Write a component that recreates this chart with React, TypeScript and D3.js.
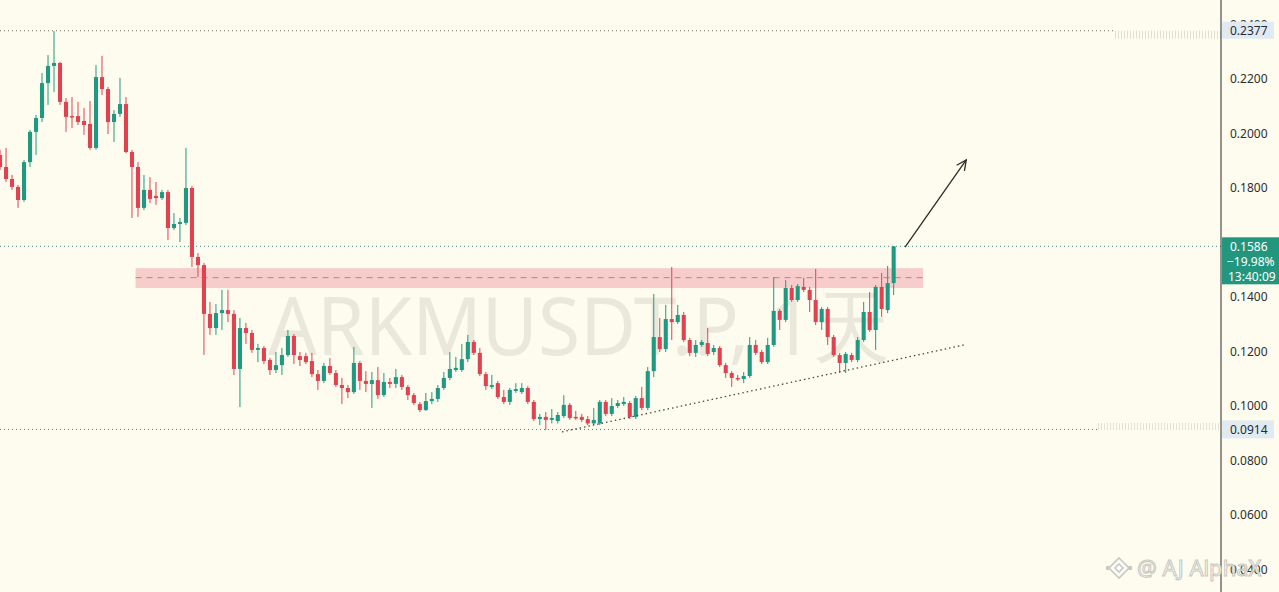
import React from "react";
import * as d3 from "d3";

const W = 1279;
const H = 592;

// ---- OHLC data ----
const opens = [
  0.1921, 0.1877, 0.1833, 0.1804, 0.1756, 0.1895, 0.2006, 0.2057, 0.2185, 0.2248,
  0.2259, 0.2116, 0.2064, 0.2064, 0.2046, 0.2035, 0.1947, 0.2207, 0.2163, 0.2042,
  0.2072, 0.2108, 0.1932, 0.1877, 0.1727, 0.1793, 0.1771, 0.1763, 0.1785, 0.1653,
  0.1668, 0.1672, 0.1800, 0.1547, 0.1517, 0.1338, 0.1286, 0.1341, 0.1352, 0.1338,
  0.1136, 0.1286, 0.1268, 0.1206, 0.1213, 0.1169, 0.1132, 0.1150, 0.1187, 0.1257,
  0.1183, 0.1183, 0.1165, 0.1117, 0.1092, 0.1147, 0.1121, 0.1077, 0.1066, 0.1051,
  0.1158, 0.1092, 0.1081, 0.1095, 0.1040, 0.1088, 0.1081, 0.1106, 0.1070, 0.1040,
  0.1007, 0.0985, 0.1018, 0.1026, 0.1066, 0.1103, 0.1132, 0.1132, 0.1172, 0.1235,
  0.1195, 0.1117, 0.1070, 0.1084, 0.1033, 0.1015, 0.1055, 0.1051, 0.1066, 0.1015,
  0.0952, 0.0960, 0.0949, 0.0945, 0.0963, 0.1004, 0.0960, 0.0960, 0.0952, 0.0936,
  0.0936, 0.1015, 0.0971, 0.1000, 0.1007, 0.1011, 0.0960, 0.1029, 0.0993, 0.1128,
  0.1253, 0.1209, 0.1319, 0.1308, 0.1334, 0.1242, 0.1195, 0.1224, 0.1231, 0.1198,
  0.1213, 0.1150, 0.1121, 0.1103, 0.1099, 0.1110, 0.1224, 0.1198, 0.1161, 0.1224,
  0.1349, 0.1316, 0.1433, 0.1389, 0.1437, 0.1426, 0.1389, 0.1308, 0.1356, 0.1253,
  0.1187, 0.1158, 0.1187, 0.1169, 0.1242, 0.1345, 0.1279, 0.1437, 0.1352, 0.1451,
];
const highs = [
  0.1940, 0.1947, 0.1848, 0.1811, 0.1903, 0.2013, 0.2068, 0.2222, 0.2288, 0.2376,
  0.2262, 0.2130, 0.2134, 0.2116, 0.2094, 0.2119, 0.2251, 0.2285, 0.2171, 0.2086,
  0.2204, 0.2134, 0.1940, 0.1895, 0.1848, 0.1840, 0.1822, 0.1793, 0.1793, 0.1708,
  0.1690, 0.1947, 0.1807, 0.1561, 0.1525, 0.1382, 0.1374, 0.1426, 0.1426, 0.1352,
  0.1323, 0.1305, 0.1279, 0.1228, 0.1220, 0.1176, 0.1198, 0.1213, 0.1279, 0.1264,
  0.1198, 0.1195, 0.1195, 0.1132, 0.1158, 0.1176, 0.1132, 0.1103, 0.1077, 0.1217,
  0.1165, 0.1128, 0.1125, 0.1143, 0.1121, 0.1103, 0.1136, 0.1114, 0.1077, 0.1048,
  0.1015, 0.1048, 0.1051, 0.1077, 0.1125, 0.1198, 0.1180, 0.1228, 0.1261, 0.1242,
  0.1213, 0.1125, 0.1114, 0.1092, 0.1059, 0.1066, 0.1084, 0.1084, 0.1073, 0.1022,
  0.0971, 0.0978, 0.0989, 0.0978, 0.1040, 0.1011, 0.0982, 0.0971, 0.0963, 0.0993,
  0.1022, 0.1022, 0.1029, 0.1022, 0.1033, 0.1018, 0.1037, 0.1070, 0.1143, 0.1411,
  0.1323, 0.1371, 0.1510, 0.1371, 0.1345, 0.1250, 0.1242, 0.1242, 0.1286, 0.1224,
  0.1220, 0.1158, 0.1128, 0.1114, 0.1125, 0.1253, 0.1242, 0.1206, 0.1250, 0.1473,
  0.1356, 0.1462, 0.1444, 0.1448, 0.1470, 0.1437, 0.1503, 0.1363, 0.1363, 0.1261,
  0.1195, 0.1198, 0.1195, 0.1253, 0.1382, 0.1418, 0.1444, 0.1488, 0.1514, 0.1587,
];
const lows = [
  0.1866, 0.1822, 0.1793, 0.1727, 0.1749, 0.1877, 0.1921, 0.2042, 0.2105, 0.2152,
  0.2105, 0.2006, 0.2020, 0.2031, 0.1995, 0.1940, 0.1940, 0.2141, 0.1998, 0.1969,
  0.2061, 0.1928, 0.1690, 0.1694, 0.1719, 0.1745, 0.1738, 0.1756, 0.1609, 0.1646,
  0.1602, 0.1664, 0.1510, 0.1473, 0.1187, 0.1261, 0.1261, 0.1279, 0.1308, 0.1114,
  0.0996, 0.1228, 0.1195, 0.1161, 0.1154, 0.1114, 0.1121, 0.1114, 0.1180, 0.1154,
  0.1147, 0.1154, 0.1106, 0.1059, 0.1084, 0.1114, 0.1070, 0.1007, 0.1029, 0.1044,
  0.1059, 0.1051, 0.0993, 0.1026, 0.1033, 0.1066, 0.1066, 0.1059, 0.1022, 0.1004,
  0.0978, 0.0982, 0.1007, 0.1015, 0.1059, 0.1095, 0.1125, 0.1125, 0.1161, 0.1187,
  0.1110, 0.1059, 0.1062, 0.1026, 0.1007, 0.1004, 0.1048, 0.1044, 0.1007, 0.0945,
  0.0930, 0.0912, 0.0936, 0.0936, 0.0956, 0.0949, 0.0949, 0.0941, 0.0930, 0.0930,
  0.0930, 0.0963, 0.0963, 0.0993, 0.1000, 0.0952, 0.0952, 0.0985, 0.0985, 0.1106,
  0.1198, 0.1198, 0.1242, 0.1301, 0.1235, 0.1183, 0.1180, 0.1217, 0.1183, 0.1187,
  0.1143, 0.1103, 0.1070, 0.1092, 0.1084, 0.1103, 0.1187, 0.1154, 0.1154, 0.1217,
  0.1279, 0.1308, 0.1382, 0.1382, 0.1418, 0.1345, 0.1297, 0.1279, 0.1224, 0.1180,
  0.1121, 0.1121, 0.1161, 0.1161, 0.1235, 0.1272, 0.1206, 0.1327, 0.1341, 0.1407,
];
const closes = [
  0.1877, 0.1833, 0.1804, 0.1756, 0.1895, 0.2006, 0.2057, 0.2185, 0.2248, 0.2259,
  0.2116, 0.2061, 0.2061, 0.2042, 0.2031, 0.1947, 0.2207, 0.2163, 0.2042, 0.2072,
  0.2108, 0.1932, 0.1877, 0.1727, 0.1793, 0.1760, 0.1763, 0.1785, 0.1653, 0.1668,
  0.1675, 0.1800, 0.1547, 0.1517, 0.1338, 0.1286, 0.1341, 0.1352, 0.1338, 0.1136,
  0.1286, 0.1268, 0.1206, 0.1213, 0.1165, 0.1132, 0.1150, 0.1187, 0.1257, 0.1187,
  0.1169, 0.1161, 0.1117, 0.1092, 0.1147, 0.1121, 0.1077, 0.1066, 0.1051, 0.1158,
  0.1092, 0.1081, 0.1095, 0.1040, 0.1088, 0.1081, 0.1106, 0.1070, 0.1040, 0.1011,
  0.0985, 0.1018, 0.1026, 0.1066, 0.1103, 0.1136, 0.1140, 0.1172, 0.1235, 0.1195,
  0.1117, 0.1073, 0.1077, 0.1033, 0.1015, 0.1059, 0.1062, 0.1066, 0.1015, 0.0952,
  0.0960, 0.0949, 0.0956, 0.0967, 0.1004, 0.0956, 0.0956, 0.0949, 0.0936, 0.0949,
  0.1015, 0.0971, 0.1000, 0.1011, 0.1015, 0.0960, 0.1029, 0.0993, 0.1128, 0.1253,
  0.1209, 0.1319, 0.1308, 0.1334, 0.1242, 0.1195, 0.1224, 0.1235, 0.1191, 0.1213,
  0.1150, 0.1121, 0.1103, 0.1099, 0.1110, 0.1224, 0.1195, 0.1161, 0.1224, 0.1349,
  0.1316, 0.1433, 0.1389, 0.1440, 0.1426, 0.1389, 0.1308, 0.1356, 0.1253, 0.1187,
  0.1158, 0.1191, 0.1169, 0.1242, 0.1345, 0.1279, 0.1437, 0.1356, 0.1451, 0.1586,
];

// axis ticks
const tickValues = [0.24, 0.22, 0.2, 0.18, 0.16, 0.14, 0.12, 0.1, 0.08, 0.06, 0.04];

// horizontal levels
const levelHigh = 0.2377;
const levelLast = 0.1586;
const levelLow = 0.0914;
const lastChange = "\u221219.98%";
const countdown = "13:40:09";

// resistance zone (index range, price range) and center line
const zoneIdx = [22.6, 153.9];
const zonePrice = [0.1433, 0.1506];
const zoneMid = 0.1471;

// ascending support line and target arrow (index, price)
const trendFrom = [93.7, 0.0905];
const trendTo = [160.7, 0.1224];
const arrowFrom = [150.9, 0.1583];
const arrowTo = [161.1, 0.1903];

const watermark = "ARKMUSDT.P, 1\u5929";
const credit = "@ AJ AlphaX";

const BG = "#fdfcef";
const UP = "#1f9a80";
const DOWN = "#e0424f";

export default function App() {
  const n = opens.length;
  const idx = d3.range(n);
  const x = d3
    .scaleBand<number>()
    .domain(idx)
    .range([-2, 895.7])
    .paddingInner(0.32);
  const step = x.step();
  const bw = x.bandwidth();
  const xc = (i: number) => (x(0) as number) + bw / 2 + i * step;
  const y = d3.scaleLinear().domain([0.04, 0.22]).range([569.5, 79]);

  const axisX = 1221;
  const fmt = d3.format(".4f");

  const zx0 = xc(zoneIdx[0]);
  const zx1 = xc(zoneIdx[1]);

  const ax1 = xc(arrowFrom[0]);
  const ay1 = y(arrowFrom[1]);
  const ax2 = xc(arrowTo[0]);
  const ay2 = y(arrowTo[1]);
  const ang = Math.atan2(ay2 - ay1, ax2 - ax1);
  const headLen = 11;
  const h1 = [ax2 - headLen * Math.cos(ang - 0.45), ay2 - headLen * Math.sin(ang - 0.45)];
  const h2 = [ax2 - headLen * Math.cos(ang + 0.45), ay2 - headLen * Math.sin(ang + 0.45)];

  const font = "'Noto Sans', 'DejaVu Sans', sans-serif";

  return (
    <svg
      width={W}
      height={H}
      style={{ position: "fixed", left: 0, top: 0, background: BG }}
    >
      <rect x={0} y={0} width={W} height={H} fill={BG} />

      {/* watermark */}
      <text
        x={268}
        y={355}
        fontFamily={font}
        fontSize={80}
        fill="#b8b6aa"
        opacity={0.28}
        textLength={622}
        lengthAdjust="spacingAndGlyphs"
      >
        {watermark}
      </text>

      {/* resistance zone */}
      <rect
        x={zx0}
        y={y(zonePrice[1])}
        width={zx1 - zx0}
        height={y(zonePrice[0]) - y(zonePrice[1])}
        fill="#f6c4c6"
        opacity={0.85}
      />
      <line
        x1={zx0}
        x2={zx1}
        y1={y(zoneMid)}
        y2={y(zoneMid)}
        stroke="#d9738a"
        strokeWidth={1}
        strokeDasharray="6,5"
      />

      {/* horizontal dotted levels */}
      <line x1={0} x2={1115} y1={y(levelHigh)} y2={y(levelHigh)} stroke="#6b6b66" strokeWidth={1} strokeDasharray="1,3" />
      <line x1={1115} x2={axisX} y1={y(levelHigh) + 4} y2={y(levelHigh) + 4} stroke="#c9c8bd" strokeWidth={8} strokeDasharray="1,2" opacity={0.55} />
      <line x1={0} x2={axisX} y1={y(levelLast)} y2={y(levelLast)} stroke="#3f8f7d" strokeWidth={1} strokeDasharray="1,3" />
      <line x1={0} x2={1098} y1={y(levelLow)} y2={y(levelLow)} stroke="#6b6b66" strokeWidth={1} strokeDasharray="1,3" />
      <line x1={1098} x2={axisX} y1={y(levelLow) - 3} y2={y(levelLow) - 3} stroke="#c9c8bd" strokeWidth={7} strokeDasharray="1,2" opacity={0.5} />

      {/* candles */}
      {idx.map((i) => {
        const o = opens[i];
        const c = closes[i];
        const up = c >= o;
        const col = up ? UP : DOWN;
        const cx = xc(i);
        const top = y(Math.max(o, c));
        const bot = y(Math.min(o, c));
        return (
          <g key={i}>
            <line x1={cx} x2={cx} y1={y(highs[i])} y2={y(lows[i])} stroke={col} strokeWidth={1} />
            <rect x={cx - bw / 2} y={top} width={bw} height={Math.max(1.5, bot - top)} fill={col} />
          </g>
        );
      })}

      {/* trend line */}
      <line
        x1={xc(trendFrom[0])}
        y1={y(trendFrom[1])}
        x2={xc(trendTo[0])}
        y2={y(trendTo[1])}
        stroke="#4a4a45"
        strokeWidth={1.3}
        strokeDasharray="1.5,3"
      />

      {/* target arrow */}
      <line x1={ax1} y1={ay1} x2={ax2} y2={ay2} stroke="#2b2b2b" strokeWidth={1.3} />
      <polyline
        points={`${h1[0]},${h1[1]} ${ax2},${ay2} ${h2[0]},${h2[1]}`}
        fill="none"
        stroke="#2b2b2b"
        strokeWidth={1.3}
      />

      {/* right axis */}
      <line x1={axisX} x2={axisX} y1={0} y2={H} stroke="#2a2a2a" strokeWidth={1} />
      {tickValues.map((v) => (
        <text
          key={v}
          x={1230}
          y={y(v)}
          dy="0.35em"
          fontFamily={font}
          fontSize={12}
          fill="#2f2f2f"
        >
          {fmt(v)}
        </text>
      ))}

      {/* level labels */}
      <rect x={axisX + 1} y={y(levelHigh) - 9} width={52} height={17} fill="#e2eaf1" />
      <text x={1230} y={y(levelHigh)} dy="0.35em" fontFamily={font} fontSize={12} fill="#1e2b3a">
        {fmt(levelHigh)}
      </text>
      <rect x={axisX + 1} y={y(levelLow) - 9} width={52} height={18} fill="#e2eaf1" />
      <text x={1230} y={y(levelLow)} dy="0.35em" fontFamily={font} fontSize={12} fill="#1e2b3a">
        {fmt(levelLow)}
      </text>

      <rect x={axisX + 1} y={y(levelLast) - 9} width={W - axisX} height={47} fill="#22977d" />
      <text x={1230} y={y(levelLast)} dy="0.35em" fontFamily={font} fontSize={12} fill="#ffffff">
        {fmt(levelLast)}
      </text>
      <text x={1227} y={y(levelLast) + 15} dy="0.35em" fontFamily={font} fontSize={12} fill="#ffffff">
        {lastChange}
      </text>
      <text x={1228} y={y(levelLast) + 30} dy="0.35em" fontFamily={font} fontSize={12} fill="#ffffff">
        {countdown}
      </text>

      {/* credit watermark */}
      <g opacity={0.9}>
        <g transform="translate(1119,568)" fill="none" stroke="#c4c4bc" strokeWidth={1.6}>
          <path d="M0,-10 L10,0 L0,10 L-10,0 Z" fill="#ffffff" />
          <path d="M0,-4 L4,0 L0,4 L-4,0 Z" />
          <circle cx={-11} cy={0} r={1.5} fill="#c4c4bc" />
          <circle cx={11} cy={0} r={1.5} fill="#c4c4bc" />
        </g>
        <text
          x={1137}
          y={576}
          fontFamily={font}
          fontSize={22}
          fill="#ffffff"
          stroke="#c2c2ba"
          strokeWidth={1}
        >
          {credit}
        </text>
      </g>
    </svg>
  );
}
